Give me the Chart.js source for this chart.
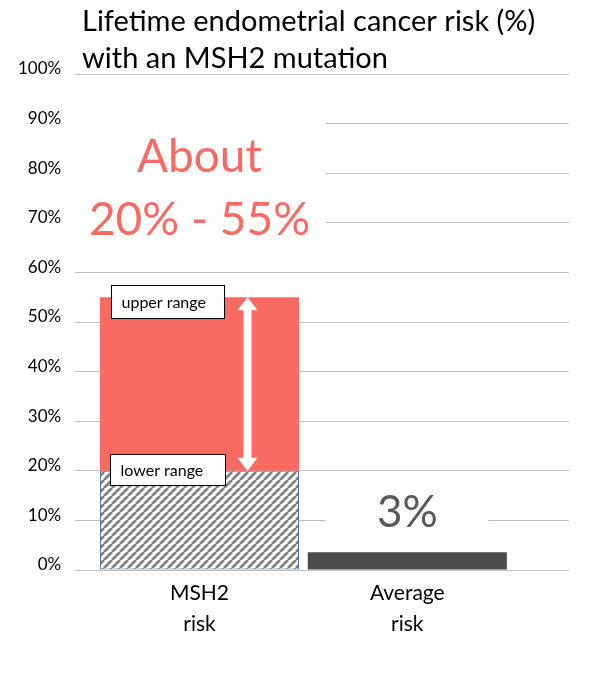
<!DOCTYPE html>
<html>
<head>
<meta charset="utf-8">
<script src="https://cdn.jsdelivr.net/npm/chart.js@4.4.1/dist/chart.umd.min.js"></script>
<style>
html,body{margin:0;padding:0;background:#fff;}
#wrap{width:592px;height:677px;position:relative;}
</style>
</head>
<body>
<div id="wrap"><canvas id="c" width="592" height="677"></canvas></div>
<script>
// ---- data ----
const categories = [["MSH2", "risk"], ["Average", "risk"]];
const categoryPositions = [0, 1];
const lowerRange = [20, null];      // hatched part of MSH2 bar
const upperRange = [35, null];      // red part stacked on top (20 -> 55)
const averageRisk = [null, 3.6];    // general population bar
const yTicks = [0, 10, 20, 30, 40, 50, 60, 70, 80, 90, 100];
const titleLines = ["Lifetime endometrial cancer risk (%)", "with an MSH2 mutation"];
const rangeText = ["About", "20% - 55%"];
const averageText = "3%";
const rangeLabels = ["upper range", "lower range"];

const FONT = "Lato, 'Open Sans', sans-serif";

// hatch pattern
function makeHatch() {
  const s = 8;
  const c = document.createElement('canvas');
  c.width = s; c.height = s;
  const g = c.getContext('2d');
  g.fillStyle = '#ffffff';
  g.fillRect(0, 0, s, s);
  g.strokeStyle = '#808080';
  g.lineWidth = 2.8;
  g.beginPath();
  for (let k = -1; k <= 1; k++) {
    g.moveTo(k * s, s);
    g.lineTo(k * s + s, 0);
  }
  g.stroke();
  return g.createPattern(c, 'repeat');
}
const ctx0 = document.getElementById('c').getContext('2d');
const hatch = makeHatch();

function pts(arr) {
  return arr.map((v, i) => ({ x: categoryPositions[i], y: v }));
}

const annotate = {
  id: 'annotate',
  afterDraw(chart) {
    const { ctx, scales: { x, y } } = chart;
    ctx.save();
    // title
    ctx.fillStyle = '#000';
    ctx.font = `29px ${FONT}`;
    ctx.textAlign = 'left';
    ctx.textBaseline = 'alphabetic';
    ctx.fillText(titleLines[0], 82, 31);
    ctx.fillText(titleLines[1], 82, 68);

    // "About 20% - 55%" box (covers grid)
    const bx0 = x.left, bx1 = x.getPixelForValue(0.607);
    const by0 = y.getPixelForValue(95), by1 = y.getPixelForValue(64);
    ctx.fillStyle = '#fff';
    ctx.fillRect(bx0, by0, bx1 - bx0, by1 - by0);
    ctx.fillStyle = '#F96A63';
    ctx.font = `46px ${FONT}`;
    ctx.textAlign = 'center';
    const cx = x.getPixelForValue(0);
    ctx.fillText(rangeText[0], cx, y.getPixelForValue(80.2));
    ctx.fillText(rangeText[1], cx, y.getPixelForValue(67.5));

    // "3%" box
    const ax0 = x.getPixelForValue(0.607), ax1 = x.getPixelForValue(1.39);
    const ay0 = y.getPixelForValue(17), ay1 = y.getPixelForValue(7);
    ctx.fillStyle = '#fff';
    ctx.fillRect(ax0, ay0, ax1 - ax0, ay1 - ay0);
    ctx.fillStyle = '#595959';
    ctx.font = `44px ${FONT}`;
    ctx.fillText(averageText, x.getPixelForValue(1), y.getPixelForValue(8.7));

    // double headed arrow
    const arX = x.getPixelForValue(0.231);
    const top = y.getPixelForValue(55), bot = y.getPixelForValue(20);
    const hw = 10, hh = 13, sw = 4;
    ctx.fillStyle = '#fff';
    ctx.beginPath();
    ctx.moveTo(arX, top);
    ctx.lineTo(arX + hw, top + hh);
    ctx.lineTo(arX + sw, top + hh);
    ctx.lineTo(arX + sw, bot - hh);
    ctx.lineTo(arX + hw, bot - hh);
    ctx.lineTo(arX, bot);
    ctx.lineTo(arX - hw, bot - hh);
    ctx.lineTo(arX - sw, bot - hh);
    ctx.lineTo(arX - sw, top + hh);
    ctx.lineTo(arX - hw, top + hh);
    ctx.closePath();
    ctx.fill();

    // range label boxes
    function box(label, v0, v1, w0, w1) {
      const l = Math.round(x.getPixelForValue(v0)) + 0.5, r = Math.round(x.getPixelForValue(v1)) + 0.5;
      const t = Math.round(y.getPixelForValue(w0)) + 0.5, b = Math.round(y.getPixelForValue(w1)) + 0.5;
      ctx.fillStyle = '#fff';
      ctx.fillRect(l, t, r - l, b - t);
      ctx.strokeStyle = '#000';
      ctx.lineWidth = 1;
      ctx.strokeRect(l, t, r - l, b - t);
      ctx.fillStyle = '#000';
      ctx.font = `16px ${FONT}`;
      ctx.textAlign = 'left';
      ctx.textBaseline = 'middle';
      ctx.fillText(label, l + 10, (t + b) / 2 + 1);
    }
    box(rangeLabels[0], -0.424, 0.116, 57.4, 50.9);
    box(rangeLabels[1], -0.429, 0.121, 23.4, 17.2);
    ctx.restore();
  }
};

new Chart(ctx0, {
  type: 'bar',
  data: {
    datasets: [
      { label: 'lower', data: pts(lowerRange), backgroundColor: hatch, borderColor: '#41719C', borderWidth: 1, borderSkipped: false },
      { label: 'upper', data: pts(upperRange), backgroundColor: '#F96A63', borderWidth: 0 },
      { label: 'average', data: pts(averageRisk), backgroundColor: '#4D4D4D', borderWidth: 0 }
    ]
  },
  options: {
    responsive: false,
    animation: false,
    devicePixelRatio: 1,
    categoryPercentage: 1,
    barPercentage: 0.958,
    layout: { padding: { top: 74, right: 23, bottom: 38, left: 4 } },
    plugins: { legend: { display: false }, tooltip: { enabled: false }, title: { display: false } },
    scales: {
      x: {
        type: 'linear',
        stacked: true,
        offset: false,
        min: -0.598,
        max: 1.778,
        grid: { display: false },
        border: { display: false },
        afterBuildTicks(scale) { scale.ticks = categoryPositions.map(v => ({ value: v })); },
        ticks: {
          autoSkip: false,
          maxRotation: 0,
          padding: -1,
          color: '#000',
          font: { family: FONT, size: 21, lineHeight: 1.5 },
          callback(v) { const i = categoryPositions.indexOf(v); return i >= 0 ? categories[i] : ''; }
        }
      },
      y: {
        stacked: true,
        min: 0,
        max: 100,
        afterBuildTicks(scale) { scale.ticks = yTicks.map(v => ({ value: v })); },
        grid: { color: '#BFBFBF', lineWidth: 1, drawTicks: false },
        border: { display: false },
        ticks: {
          padding: 14,
          labelOffset: -5,
          color: '#000',
          font: { family: FONT, size: 17 },
          callback(v) { return v + '%'; }
        }
      }
    }
  },
  plugins: [annotate]
});
</script>
</body>
</html>
